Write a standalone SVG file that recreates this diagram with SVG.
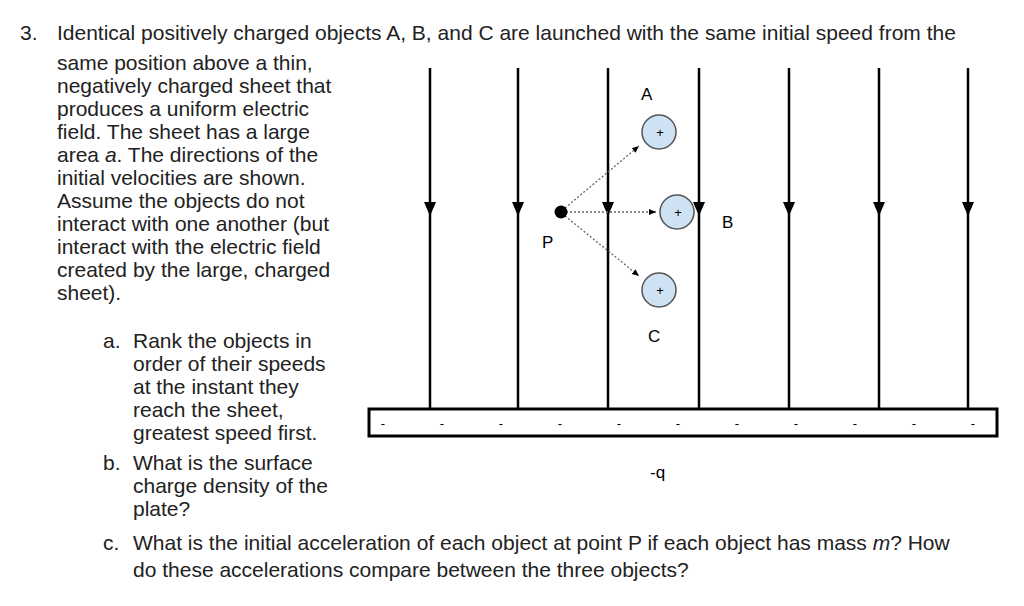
<svg xmlns="http://www.w3.org/2000/svg" width="1024" height="606" viewBox="0 0 1024 606">
<style>
text{font-family:"Liberation Sans",Arial,sans-serif;fill:#222;font-size:21px}
.fl{stroke:#000;stroke-width:2.5}
.lbl{font-size:17px;fill:#000}
.ch{fill:#cfe2f3;stroke:#555;stroke-width:1.5}
.dot{stroke:#666;stroke-width:1.3;stroke-dasharray:2,2;fill:none}
.m{font-size:13px;fill:#000}
</style>
<defs>
<marker id="ah" markerWidth="8" markerHeight="8" refX="7" refY="4" orient="auto" markerUnits="userSpaceOnUse"><path d="M0,1 L7,4 L0,7 Z" fill="#000"/></marker>
</defs>
<rect width="1024" height="606" fill="#fff"/>
<g id="question">
<text x="20" y="40">3.</text>
<text x="57" y="40">Identical positively charged objects A, B, and C are launched with the same initial speed from the</text>
<text x="57" y="70">same position above a thin,</text>
<text x="57" y="93">negatively charged sheet that</text>
<text x="57" y="116">produces a uniform electric</text>
<text x="57" y="139">field. The sheet has a large</text>
<text x="57" y="162">area <tspan font-style="italic">a</tspan>. The directions of the</text>
<text x="57" y="185">initial velocities are shown.</text>
<text x="57" y="208">Assume the objects do not</text>
<text x="57" y="231">interact with one another (but</text>
<text x="57" y="254">interact with the electric field</text>
<text x="57" y="277">created by the large, charged</text>
<text x="57" y="300">sheet).</text>
<text x="103" y="348">a.</text>
<text x="133" y="348">Rank the objects in</text>
<text x="133" y="371">order of their speeds</text>
<text x="133" y="394">at the instant they</text>
<text x="133" y="417">reach the sheet,</text>
<text x="133" y="440">greatest speed first.</text>
<text x="103" y="470">b.</text>
<text x="133" y="470">What is the surface</text>
<text x="133" y="493">charge density of the</text>
<text x="133" y="516">plate?</text>
<text x="103" y="550">c.</text>
<text x="133" y="550">What is the initial acceleration of each object at point P if each object has mass <tspan font-style="italic">m</tspan>? How</text>
<text x="133" y="577">do these accelerations compare between the three objects?</text>
</g>
<g id="field-lines">
<g class="fl">
<line x1="430" y1="68" x2="430" y2="409"/><line x1="518" y1="68" x2="518" y2="409"/>
<line x1="608" y1="68" x2="608" y2="409"/><line x1="699" y1="68" x2="699" y2="409"/>
<line x1="789" y1="68" x2="789" y2="409"/><line x1="879" y1="68" x2="879" y2="409"/>
<line x1="968" y1="68" x2="968" y2="409"/>
</g>
<g fill="#000">
<path d="M424,202 L436,202 L430,216 Z"/><path d="M512,202 L524,202 L518,216 Z"/>
<path d="M602,202 L614,202 L608,216 Z"/><path d="M693,202 L705,202 L699,216 Z"/>
<path d="M783,202 L795,202 L789,216 Z"/><path d="M873,202 L885,202 L879,216 Z"/>
<path d="M962,202 L974,202 L968,216 Z"/>
</g>
</g>
<g id="sheet">
<rect x="369" y="409" width="628" height="27" fill="#fff" stroke="#000" stroke-width="3"/>
<g class="m" text-anchor="middle">
<text class="m" x="383" y="428">-</text><text class="m" x="442" y="428">-</text><text class="m" x="501" y="428">-</text>
<text class="m" x="560" y="428">-</text><text class="m" x="619" y="428">-</text><text class="m" x="678" y="428">-</text>
<text class="m" x="737" y="428">-</text><text class="m" x="796" y="428">-</text><text class="m" x="855" y="428">-</text>
<text class="m" x="914" y="428">-</text><text class="m" x="973" y="428">-</text>
</g>
<text class="lbl" x="650" y="478">-q</text>
</g>
<g id="connectors">
<line class="dot" x1="565" y1="208" x2="639" y2="146" marker-end="url(#ah)"/>
<line class="dot" x1="566" y1="212" x2="656" y2="212" marker-end="url(#ah)"/>
<line class="dot" x1="565" y1="216" x2="639" y2="276" marker-end="url(#ah)"/>
</g>
<g id="P"><circle cx="561" cy="212" r="6.5" fill="#000"/><text class="lbl" x="542" y="248">P</text></g>
<g id="A"><circle class="ch" cx="659" cy="132" r="17"/><text class="m" x="660" y="137" text-anchor="middle">+</text><text class="lbl" x="641" y="100">A</text></g>
<g id="B"><circle class="ch" cx="677" cy="212" r="17"/><text class="m" x="678" y="217" text-anchor="middle">+</text><text class="lbl" x="722" y="228">B</text></g>
<g id="C"><circle class="ch" cx="659" cy="290" r="17"/><text class="m" x="660" y="295" text-anchor="middle">+</text><text class="lbl" x="648" y="342">C</text></g>
</svg>
